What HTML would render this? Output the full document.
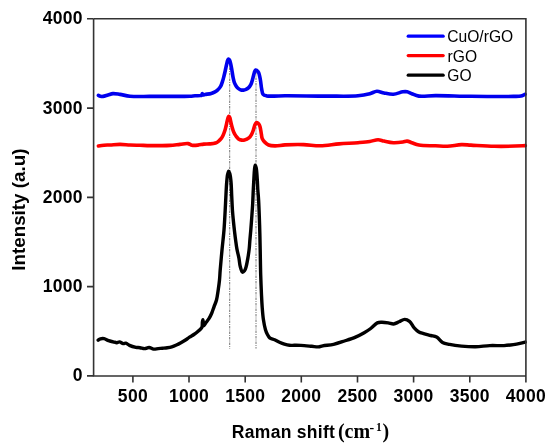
<!DOCTYPE html>
<html><head><meta charset="utf-8"><style>
html,body{margin:0;padding:0;background:#fff;width:550px;height:448px;overflow:hidden}
svg{display:block}
.t{font-family:"Liberation Sans",Arial,sans-serif;font-weight:bold;fill:#000}
.lg{font-family:"Liberation Sans",Arial,sans-serif;font-size:15.6px;fill:#000}
.sr{font-family:"Liberation Serif","Times New Roman",serif;font-weight:bold}
</style></head><body>
<svg width="550" height="448" viewBox="0 0 550 448">
<rect width="550" height="448" fill="#fff"/>
<g stroke="#777" stroke-width="1" stroke-dasharray="2.5,1,1,1" fill="none">
<line x1="229.7" y1="62" x2="229.7" y2="348.6"/>
<line x1="256" y1="72" x2="256" y2="348.6"/>
</g>
<g fill="none" stroke-linejoin="round" stroke-linecap="round">
<path d="M98.20,340.20 C98.20,340.20 99.61,339.08 100.50,338.80 C101.53,338.48 102.86,338.36 104.10,338.60 C105.55,338.88 107.06,340.16 108.60,340.70 C110.10,341.22 111.76,341.45 113.20,341.80 C114.47,342.11 115.69,342.72 116.80,342.70 C117.77,342.68 118.54,341.83 119.50,341.90 C120.65,341.98 122.04,343.43 123.20,343.60 C124.15,343.74 124.97,343.01 125.90,343.20 C127.06,343.44 128.08,344.77 129.50,345.40 C131.29,346.19 133.99,346.93 135.90,347.30 C137.40,347.59 138.61,347.49 140.00,347.70 C141.47,347.92 142.99,348.63 144.50,348.60 C146.03,348.57 147.59,347.42 149.10,347.50 C150.62,347.58 152.07,348.92 153.60,349.10 C155.11,349.28 156.67,348.75 158.20,348.60 C159.71,348.45 161.19,348.35 162.70,348.20 C164.23,348.05 165.78,347.93 167.30,347.70 C168.81,347.47 170.31,347.24 171.80,346.80 C173.34,346.35 174.89,345.68 176.40,345.00 C177.93,344.31 179.40,343.52 180.90,342.70 C182.44,341.86 184.04,340.95 185.50,340.00 C186.90,339.08 188.11,338.01 189.50,337.10 C190.91,336.17 192.46,335.49 193.90,334.50 C195.43,333.44 197.03,332.11 198.40,330.90 C199.64,329.81 201.12,328.99 201.80,327.60 C202.54,326.08 202.16,323.43 202.40,322.00 C202.55,321.09 202.75,319.79 202.90,319.80 C203.08,319.81 203.23,321.97 203.40,323.00 C203.56,323.97 203.56,325.73 203.90,325.80 C204.25,325.87 204.84,324.26 205.50,323.30 C206.44,321.93 208.05,320.12 209.10,318.40 C210.15,316.69 211.00,314.89 211.80,313.00 C212.64,311.03 213.24,308.91 214.00,306.80 C214.80,304.58 215.83,302.52 216.50,300.00 C217.29,297.02 217.70,293.34 218.20,290.00 C218.70,286.67 219.17,283.34 219.50,280.00 C219.83,276.67 219.89,273.90 220.20,270.00 C220.64,264.48 221.37,256.67 222.00,250.00 C222.63,243.33 223.47,236.67 224.00,230.00 C224.53,223.34 224.83,216.67 225.20,210.00 C225.57,203.33 225.87,195.52 226.20,190.00 C226.43,186.09 226.62,182.84 226.90,180.00 C227.11,177.89 227.23,176.07 227.60,174.50 C227.89,173.27 228.30,171.33 228.70,171.30 C229.04,171.28 229.51,172.61 229.80,173.50 C230.20,174.71 230.38,176.37 230.60,178.00 C230.86,179.92 231.03,181.90 231.20,184.30 C231.42,187.50 231.51,191.46 231.70,195.50 C231.93,200.25 232.16,206.28 232.50,211.00 C232.78,214.98 233.14,218.42 233.50,222.00 C233.84,225.41 234.23,228.85 234.60,232.00 C234.93,234.82 235.23,237.26 235.60,240.00 C235.99,242.89 236.35,245.94 236.90,248.90 C237.45,251.90 238.33,254.90 238.90,257.90 C239.46,260.87 239.59,264.24 240.30,266.80 C240.87,268.86 241.59,271.93 242.50,272.20 C243.09,272.37 243.95,271.50 244.50,270.80 C245.23,269.87 245.62,268.42 246.10,266.80 C246.80,264.44 247.38,260.88 247.90,257.90 C248.42,254.92 248.87,251.90 249.20,248.90 C249.53,245.93 249.64,243.05 249.90,240.00 C250.17,236.76 250.51,233.49 250.80,230.00 C251.11,226.18 251.41,222.08 251.70,218.00 C252.01,213.75 252.34,209.53 252.60,205.00 C252.88,200.06 253.07,194.25 253.30,189.50 C253.50,185.46 253.69,181.81 253.90,178.30 C254.09,175.19 254.22,171.89 254.50,169.50 C254.69,167.84 254.87,165.33 255.20,165.30 C255.47,165.27 255.92,166.79 256.20,168.00 C256.73,170.30 256.94,174.79 257.20,178.30 C257.47,181.95 257.56,185.83 257.80,189.50 C258.03,193.06 258.35,195.75 258.60,200.00 C258.98,206.55 259.33,216.67 259.60,225.00 C259.87,233.33 260.02,241.67 260.20,250.00 C260.38,258.33 260.46,267.13 260.70,275.00 C260.91,282.04 261.22,289.14 261.50,295.00 C261.72,299.60 261.88,303.21 262.20,307.30 C262.52,311.38 262.82,315.66 263.40,319.50 C263.92,322.99 264.61,326.70 265.40,329.40 C265.97,331.35 266.54,332.83 267.30,334.30 C267.99,335.63 268.58,337.00 269.70,337.90 C270.94,338.89 272.98,339.09 274.60,339.80 C276.25,340.52 277.85,341.48 279.50,342.20 C281.12,342.91 282.74,343.58 284.40,344.10 C286.04,344.61 287.73,345.10 289.40,345.30 C291.03,345.49 292.55,345.29 294.30,345.30 C296.34,345.32 298.43,345.28 300.90,345.40 C304.08,345.56 308.62,346.02 311.80,346.30 C314.27,346.51 316.45,347.06 318.40,346.90 C320.00,346.77 320.93,346.15 322.70,345.80 C325.49,345.25 330.00,345.09 333.60,344.30 C337.27,343.50 340.87,342.19 344.50,341.00 C348.17,339.79 352.09,338.56 355.50,337.10 C358.62,335.77 361.55,334.22 364.20,332.70 C366.56,331.34 368.58,330.08 370.70,328.50 C372.95,326.83 375.20,323.84 377.30,322.90 C378.79,322.23 380.01,322.34 381.60,322.30 C383.56,322.25 386.12,322.59 388.20,322.90 C390.10,323.18 391.82,324.16 393.60,324.00 C395.45,323.83 397.26,322.56 399.10,321.80 C400.96,321.03 402.90,319.43 404.70,319.40 C406.36,319.38 408.05,320.17 409.50,321.30 C411.30,322.70 412.53,325.94 414.20,327.80 C415.68,329.44 417.23,331.02 418.90,332.00 C420.38,332.87 421.86,333.07 423.60,333.60 C425.71,334.24 428.44,334.89 430.70,335.50 C432.76,336.05 434.75,336.08 436.60,337.10 C438.72,338.27 440.28,341.28 442.50,342.50 C444.63,343.67 446.91,343.85 449.60,344.40 C453.04,345.10 457.36,345.70 461.50,346.10 C465.99,346.53 470.89,346.88 475.60,346.80 C480.33,346.72 485.06,345.80 489.80,345.60 C494.53,345.40 499.76,345.82 504.00,345.60 C507.46,345.42 510.55,345.01 513.40,344.60 C515.80,344.25 517.94,343.84 520.00,343.40 C521.84,343.00 525.20,342.10 525.20,342.10" stroke="#000" stroke-width="3.4"/>
<path d="M98.40,146.00 C98.40,146.00 102.10,145.37 104.00,145.20 C105.96,145.03 107.75,145.11 110.00,145.00 C112.91,144.86 116.67,144.40 120.00,144.40 C123.33,144.40 126.67,144.85 130.00,145.00 C133.33,145.15 136.67,145.20 140.00,145.30 C143.33,145.40 146.67,145.55 150.00,145.60 C153.33,145.65 156.67,145.63 160.00,145.60 C163.33,145.57 166.67,145.60 170.00,145.40 C173.34,145.20 176.85,144.71 180.00,144.40 C182.82,144.12 185.82,143.29 188.00,143.60 C189.59,143.83 190.50,144.92 192.00,145.20 C193.77,145.53 196.02,145.29 198.00,145.10 C199.96,144.92 201.86,144.30 203.80,144.10 C205.73,143.90 207.66,144.08 209.60,143.90 C211.56,143.72 213.92,143.56 215.50,143.00 C216.69,142.58 217.48,142.01 218.40,141.30 C219.42,140.51 220.51,139.42 221.30,138.40 C222.01,137.48 222.47,136.61 223.00,135.50 C223.65,134.14 224.30,132.33 224.80,130.80 C225.25,129.40 225.53,128.21 225.90,126.70 C226.36,124.85 226.79,122.37 227.30,120.50 C227.73,118.92 228.15,116.31 228.70,116.20 C229.04,116.13 229.51,116.92 229.80,117.50 C230.22,118.35 230.29,119.69 230.60,121.00 C231.00,122.67 231.46,124.79 232.00,126.70 C232.56,128.66 233.13,130.90 233.90,132.60 C234.54,134.02 235.29,135.21 236.10,136.30 C236.84,137.29 237.55,138.27 238.50,138.90 C239.45,139.53 240.74,139.93 241.80,140.10 C242.73,140.25 243.52,140.24 244.50,140.00 C245.82,139.68 247.70,138.88 248.90,137.90 C250.05,136.96 250.86,135.61 251.60,134.30 C252.36,132.95 252.88,131.39 253.40,129.90 C253.91,128.42 254.13,126.68 254.70,125.40 C255.17,124.35 255.74,122.92 256.40,122.70 C256.88,122.54 257.51,122.94 258.00,123.30 C258.61,123.75 259.18,124.51 259.60,125.40 C260.17,126.59 260.40,128.49 260.70,130.00 C260.99,131.45 261.14,132.85 261.40,134.30 C261.67,135.79 261.69,137.44 262.30,138.80 C262.90,140.14 263.95,141.36 265.00,142.40 C266.05,143.43 267.14,144.41 268.60,145.00 C270.36,145.71 272.63,145.85 275.00,145.90 C277.96,145.96 281.15,145.12 285.00,144.90 C290.24,144.60 297.58,144.43 303.60,144.60 C309.29,144.76 314.49,145.88 320.20,145.80 C326.30,145.71 332.80,144.42 339.10,143.90 C345.40,143.38 352.44,143.16 358.00,142.70 C362.40,142.34 366.23,142.07 369.80,141.50 C372.82,141.02 375.57,139.68 378.10,139.70 C380.24,139.72 381.80,140.65 384.00,141.10 C386.76,141.66 390.25,142.55 393.40,142.70 C396.55,142.85 400.38,142.36 402.90,142.00 C404.59,141.76 405.67,141.02 407.10,141.10 C408.63,141.19 410.07,142.11 411.80,142.70 C413.92,143.42 415.99,144.56 418.90,145.10 C423.23,145.91 430.44,145.59 435.50,145.80 C439.77,145.98 443.19,146.46 447.30,146.30 C451.82,146.13 457.25,144.74 461.50,144.60 C464.95,144.49 467.06,144.90 470.90,145.10 C476.99,145.42 486.27,146.16 494.50,146.30 C503.53,146.45 518.64,146.01 522.90,145.80 C524.14,145.74 525.30,145.60 525.30,145.60" stroke="#f00" stroke-width="3.6"/>
<path d="M98.40,95.40 C98.40,95.40 99.75,96.13 100.50,96.30 C101.28,96.48 102.03,96.51 103.00,96.40 C104.39,96.24 106.33,95.47 108.00,95.00 C109.67,94.53 111.18,93.75 113.00,93.60 C115.12,93.43 117.47,94.03 120.00,94.40 C123.04,94.85 126.08,95.83 130.00,96.20 C135.50,96.72 143.33,96.37 150.00,96.40 C156.67,96.43 163.33,96.43 170.00,96.40 C176.67,96.37 185.56,96.40 190.00,96.20 C192.22,96.10 193.29,95.91 195.00,95.80 C196.79,95.68 199.37,95.63 200.50,95.50 C201.01,95.44 201.31,95.53 201.60,95.30 C201.97,95.00 202.06,93.61 202.30,93.60 C202.52,93.59 202.60,94.82 203.00,95.00 C203.45,95.21 204.15,94.68 205.00,94.50 C206.49,94.18 209.41,93.93 211.20,93.40 C212.65,92.97 213.89,92.40 215.00,91.80 C215.95,91.28 216.67,90.85 217.50,90.10 C218.54,89.16 219.78,87.80 220.60,86.40 C221.47,84.92 221.94,83.11 222.50,81.40 C223.08,79.65 223.53,77.81 224.00,76.00 C224.47,74.18 224.88,72.38 225.30,70.50 C225.74,68.55 226.18,66.29 226.60,64.50 C226.94,63.03 227.22,61.50 227.60,60.50 C227.85,59.86 228.07,59.06 228.40,59.00 C228.71,58.95 229.19,59.51 229.50,60.00 C229.99,60.77 230.26,62.17 230.60,63.50 C231.04,65.22 231.41,67.35 231.80,69.50 C232.25,71.97 232.58,75.07 233.10,77.50 C233.54,79.57 233.95,81.58 234.60,83.20 C235.13,84.52 235.79,85.66 236.50,86.60 C237.11,87.40 237.75,88.05 238.50,88.60 C239.25,89.15 240.14,89.65 241.00,89.90 C241.81,90.13 242.67,90.18 243.50,90.10 C244.34,90.02 245.20,89.75 246.00,89.40 C246.84,89.03 247.66,88.59 248.40,87.90 C249.29,87.07 250.12,85.93 250.80,84.60 C251.65,82.93 252.20,80.55 252.80,78.50 C253.40,76.45 253.81,73.84 254.40,72.30 C254.78,71.32 255.08,70.18 255.60,70.00 C256.00,69.86 256.56,70.28 257.00,70.60 C257.54,70.99 258.10,71.57 258.50,72.30 C259.03,73.25 259.28,74.70 259.60,76.00 C259.95,77.42 260.21,78.77 260.50,80.50 C260.89,82.82 261.11,86.23 261.60,88.70 C262.01,90.79 262.06,93.21 263.10,94.40 C263.94,95.37 265.26,95.59 266.70,95.90 C268.68,96.32 271.32,96.10 274.00,96.10 C277.29,96.10 280.14,95.85 285.00,95.80 C294.52,95.70 314.33,96.12 327.30,96.10 C338.35,96.09 350.19,96.53 358.00,95.80 C362.88,95.35 366.39,94.57 369.80,93.70 C372.50,93.01 374.52,91.41 376.90,91.30 C379.25,91.19 381.45,92.53 384.00,93.00 C386.90,93.53 390.28,94.39 393.40,94.20 C396.58,94.01 400.35,92.12 402.90,91.80 C404.57,91.59 405.69,91.53 407.10,91.80 C408.65,92.10 410.06,93.06 411.80,93.70 C413.91,94.48 415.99,95.67 418.90,96.10 C423.23,96.75 428.93,95.63 435.50,95.60 C445.09,95.55 458.56,96.16 470.90,96.30 C484.42,96.45 504.98,96.56 513.40,96.40 C516.96,96.33 519.17,96.46 521.00,96.10 C522.08,95.89 522.79,95.54 523.50,95.20 C524.08,94.93 525.00,94.30 525.00,94.30" stroke="#00e" stroke-width="3.6"/>
</g>
<g stroke="#333" stroke-width="1.6" fill="none">
<path d="M93.6,18.8 H525.9 V382.4 M93.6,18.8 V376 H525.9"/>
<path d="M87,18.8 H93.6 M87,108.1 H93.6 M87,197.4 H93.6 M87,286.6 H93.6 M87,375.9 H93.6"/>
<path d="M132.9,376 V382.4 M189.0,376 V382.4 M245.2,376 V382.4 M301.3,376 V382.4 M357.5,376 V382.4 M413.6,376 V382.4 M469.8,376 V382.4"/>
</g>
<g class="t" font-size="17.5" text-anchor="end" letter-spacing="0.3">
<text x="82.9" y="23.9">4000</text>
<text x="82.9" y="113.5">3000</text>
<text x="82.9" y="202.8">2000</text>
<text x="82.9" y="292">1000</text>
<text x="82.9" y="381.2">0</text>
</g>
<g class="t" font-size="17.5" text-anchor="middle" letter-spacing="0.3">
<text x="132.9" y="401.8">500</text>
<text x="189.0" y="401.8">1000</text>
<text x="245.2" y="401.8">1500</text>
<text x="301.3" y="401.8">2000</text>
<text x="357.5" y="401.8">2500</text>
<text x="413.6" y="401.8">3000</text>
<text x="469.8" y="401.8">3500</text>
<text x="525.9" y="401.8">4000</text>
</g>
<text class="t" font-size="18.8" transform="translate(24.9,270.7) rotate(-90)">Intensity (a.u)</text>
<text class="t" font-size="17.5" x="231.8" y="438.2" letter-spacing="0.3">Raman shift</text>
<g class="sr">
<text font-size="20" x="337.9" y="438">(cm</text>
<text font-size="14" x="369.6" y="431.5">-</text>
<text font-size="11.5" x="376.1" y="431">1</text>
<text font-size="20" x="382.4" y="438">)</text>
</g>
<g stroke-width="3.2" stroke-linecap="round">
<line x1="408.2" y1="36.2" x2="443.2" y2="36.2" stroke="#00f"/>
<line x1="408.2" y1="55.6" x2="443.2" y2="55.6" stroke="#f00"/>
<line x1="408.2" y1="75.2" x2="443.2" y2="75.2" stroke="#000"/>
</g>
<g class="lg">
<text x="447.3" y="42.1">CuO/rGO</text>
<text x="447.6" y="61.7">rGO</text>
<text x="447.3" y="81.2">GO</text>
</g>
</svg>
</body></html>
